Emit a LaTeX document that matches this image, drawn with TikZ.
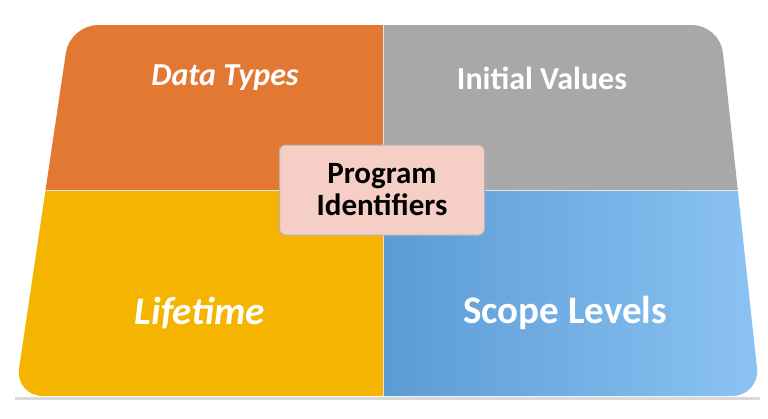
\documentclass[tikz,border=0pt]{standalone}
\usepackage{fontspec}
\setmainfont{Carlito}
\definecolor{qorange}{HTML}{E27832}
\definecolor{qgray}{HTML}{A8A8A8}
\definecolor{qgold}{HTML}{F4B400}
\definecolor{qblue}{HTML}{5B9BD5}
\definecolor{qbluelight}{HTML}{8CC4F4}
\definecolor{qpink}{HTML}{F5CEC6}
\begin{document}
\begin{tikzpicture}[x=1pt,y=-1pt,
        qlabel/.style = {white, font=\bfseries},
        centerbox/.style = {draw=gray!60, line width=1pt, fill=qpink, rounded corners=6pt,
            minimum width=205pt, minimum height=90pt, inner sep=2pt, align=center, font=\bfseries\fontsize{31}{32}\selectfont}
    ]
        \useasboundingbox (0,0) rectangle (768,418);
        % outer board
        \fill[gray!30] (15,397) -- (760,397) -- (760,400) -- (15,400) -- cycle;
        \begin{scope}
            \clip[rounded corners=28pt] (70,25) -- (720,25) -- (760,396) -- (15,396) -- cycle;
            \coordinate (mm) at (383,190);
            \coordinate (ml) at (0,190);
            \coordinate (mr) at (768,190);
            \coordinate (bm) at (383,396);
            \coordinate (br) at (768,396);
            \fill[qorange] (0,0) rectangle (mm);
            \fill[qgray] (383,0) rectangle (mr);
            \fill[qgold] (ml) rectangle (bm);
            \shade[left color=qblue, right color=qbluelight] (mm) rectangle (br);
            \draw[white!80!gray, line width=0.8pt] (383,0) -- (bm);
            \draw[white!80!gray, line width=0.8pt] (ml) -- (mr);
        \end{scope}

        \node[qlabel, font=\bfseries\itshape\fontsize{32}{36}\selectfont] (types) at (225,78) {Data Types};
        \node[qlabel, font=\bfseries\fontsize{32}{36}\selectfont] (initial) at (542,78) {Initial Values};
        \node[qlabel, font=\bfseries\itshape\fontsize{39}{44}\selectfont] (life) at (200,313) {Lifetime};
        \node[qlabel, font=\bfseries\fontsize{39}{44}\selectfont] (scope) at (565,313) {Scope Levels};
        \node[centerbox] (prog) at (382,190) {Program\\Identifiers};
    \end{tikzpicture}
\end{document}
